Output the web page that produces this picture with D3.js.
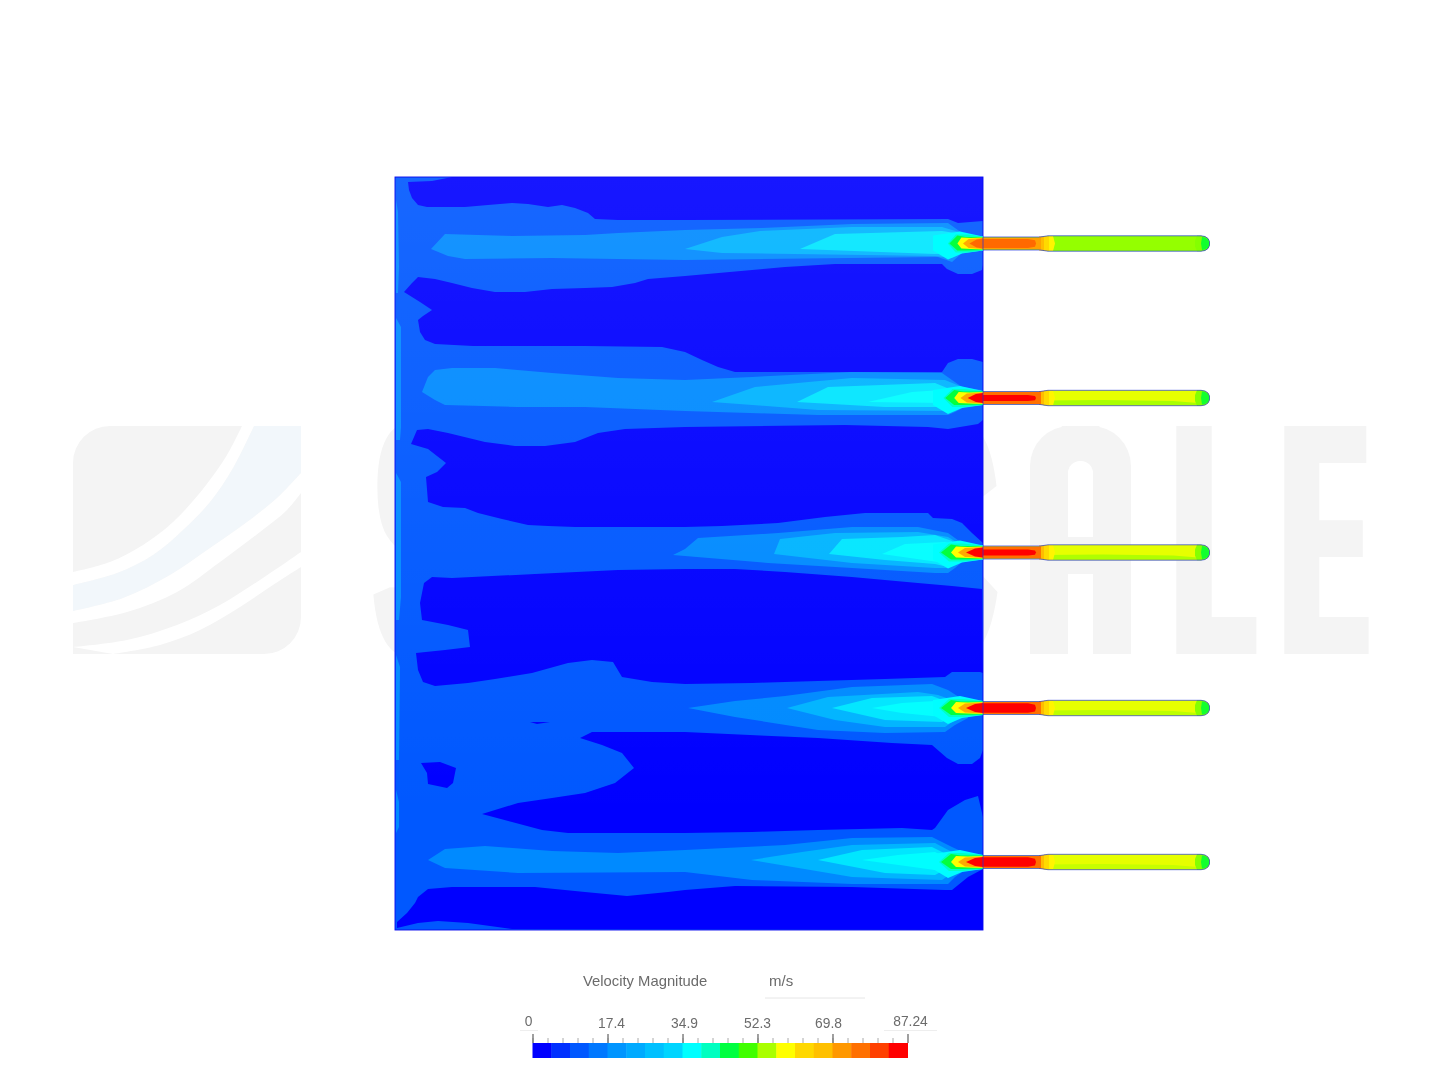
<!DOCTYPE html>
<html lang="en">
<head>
    <meta charset="UTF-8">
    <title>Velocity Magnitude</title>
    <script src="https://d3js.org/d3.v7.min.js"></script>
    <style>
        body {
            margin: 0;
            background: #fff;
            font-family: "Liberation Sans", Arial, sans-serif;
        }
        svg {
            display: block;
        }
    </style>
</head>
<body>
    <div id="chart"></div>

    <script>
        // Legend: 20 bins between 0 and 87.24 m/s
        const maxVelocity = 87.24;
        const legendColors = ["#0000ff", "#0030ff", "#0058ff", "#0078ff", "#0095ff", "#00aaff", "#00c0ff", "#00d5ff", "#00ffff", "#00ffc0",
            "#00ff40", "#40ff00", "#aaff00", "#ffff00", "#ffd800", "#ffc000", "#ff9800", "#ff7000", "#ff4000", "#ff0000"];
        const majorTicks = [0, 17.45, 34.9, 52.34, 69.79, 87.24];
        const tickLabels = ["0", "17.4", "34.9", "52.3", "69.8", "87.24"];
        const minorTicks = d3.range(0, 25).map(i => i * maxVelocity / 25);

        // Velocity of each contour level, m/s
        const vLake = 2.2, vBase = 10.9, vBand = 18, vMid = 26, vHigh = 34.5, vJet = 37;

        // Low velocity regions, outline points [x, y] in mm from the top left of the plate
        const lakeA = [[13, 5], [37, 4], [57, 0], [588, 0], [588, 44], [563, 46], [553, 42], [290, 43], [223, 43], [200, 42], [193, 36], [180, 31], [167, 28], [153, 30], [133, 27], [117, 26], [93, 28], [70, 30], [50, 30], [32, 30], [23, 28], [17, 21], [14, 13]];
        const lakeB = [[9, 115], [17, 106], [23, 100], [40, 102], [57, 106], [77, 111], [100, 115], [130, 115], [157, 112], [190, 111], [217, 110], [240, 106], [253, 102], [290, 99], [390, 90], [440, 87], [547, 87], [552, 92], [563, 97], [577, 97], [587, 93], [588, 88], [588, 185], [577, 182], [563, 182], [553, 186], [547, 195], [340, 195], [323, 190], [307, 183], [290, 175], [267, 170], [190, 169], [78, 169], [40, 167], [30, 163], [25, 155], [23, 143], [28, 139], [37, 133], [25, 125]];
        const lakeC = [[16, 267], [22, 253], [33, 252], [53, 256], [90, 265], [120, 269], [150, 269], [180, 265], [203, 256], [230, 252], [290, 250], [450, 248], [533, 250], [553, 252], [583, 247], [588, 243], [588, 366], [577, 356], [567, 346], [557, 342], [538, 341], [533, 336], [470, 336], [430, 340], [383, 346], [327, 349], [290, 350], [223, 350], [180, 350], [153, 349], [133, 348], [107, 342], [83, 336], [70, 331], [48, 330], [33, 325], [31, 300], [42, 295], [51, 286], [33, 272]];
        const lakeD = [[29, 406], [37, 400], [57, 401], [140, 397], [223, 393], [290, 392], [340, 392], [390, 395], [457, 400], [523, 406], [557, 409], [587, 412], [588, 496], [585, 495], [557, 495], [550, 500], [490, 502], [423, 504], [357, 506], [290, 507], [257, 505], [227, 500], [218, 485], [197, 483], [173, 486], [137, 496], [100, 502], [73, 506], [40, 509], [28, 505], [23, 493], [21, 476], [50, 473], [75, 470], [73, 453], [53, 448], [27, 443], [25, 426]];
        const lakeE = [[185, 561], [197, 555], [223, 555], [290, 555], [423, 561], [497, 566], [537, 568], [552, 581], [563, 587], [577, 587], [585, 581], [588, 573], [588, 640], [583, 619], [570, 623], [553, 633], [540, 651], [537, 653], [507, 651], [423, 653], [357, 655], [290, 656], [173, 656], [147, 653], [117, 645], [87, 637], [123, 626], [157, 621], [190, 616], [220, 606], [239, 591], [227, 576], [207, 568]];
        const lakeF = [[12, 736], [20, 726], [23, 720], [33, 712], [57, 710], [140, 710], [190, 715], [232, 719], [273, 715], [290, 713], [340, 709], [457, 710], [550, 713], [557, 713], [573, 700], [588, 692], [588, 753], [117, 752], [73, 746], [43, 744], [23, 746], [2, 751], [2, 745]];
        const lakeIsland = [[26, 586], [45, 585], [61, 591], [58, 606], [52, 611], [33, 607], [32, 596]];
        const lakeSlit = [[135, 545], [155, 545], [142, 547]];
        const lakes = [lakeA, lakeB, lakeC, lakeD, lakeE, lakeF, lakeIsland, lakeSlit];

        // Faster strips along the left wall
        const wallStrips = [
            [[1, 23], [3, 35], [4, 90], [3, 116], [1, 116]],
            [[1, 141], [6, 150], [6, 250], [5, 263], [1, 263]],
            [[1, 296], [6, 305], [6, 420], [4, 443], [1, 443]],
            [[1, 478], [5, 490], [4, 583], [1, 583]],
            [[1, 613], [4, 625], [4, 650], [1, 656]]
        ];

        // Jet contours, outer level to inner
        const jet1Band = [[36, 72], [50, 57], [117, 59], [190, 58], [223, 56], [290, 53], [367, 51], [457, 47], [553, 46], [567, 56], [588, 60], [588, 73], [567, 76], [557, 85], [543, 80], [290, 83], [223, 82], [157, 81], [70, 82], [53, 79]];
        const jet1Mid = [[290, 72], [327, 60], [365, 54], [457, 50], [547, 50], [567, 56], [567, 76], [557, 81], [540, 79], [327, 76]];
        const jet1High = [[405, 72], [440, 57], [547, 54], [560, 56], [560, 76], [540, 77]];
        const jet2Band = [[27, 215], [33, 200], [40, 193], [57, 191], [100, 191], [157, 196], [223, 201], [290, 203], [357, 200], [457, 195], [547, 196], [567, 210], [586, 213], [586, 226], [573, 228], [560, 235], [553, 238], [423, 238], [290, 234], [190, 230], [123, 230], [50, 228], [40, 223]];
        const jet2Mid = [[317, 225], [360, 210], [457, 201], [550, 203], [567, 210], [567, 228], [553, 234], [423, 233]];
        const jet2High = [[402, 225], [433, 210], [540, 206], [557, 213], [557, 229], [550, 230], [490, 230]];
        const jet2Core = [[473, 225], [517, 215], [547, 213], [555, 215], [555, 226], [550, 226]];
        const jet3Band = [[278, 378], [290, 372], [303, 361], [383, 356], [457, 350], [523, 350], [553, 356], [567, 366], [567, 385], [560, 391], [553, 396], [540, 396], [457, 391], [373, 386], [290, 379]];
        const jet3Mid = [[379, 377], [385, 362], [440, 356], [523, 355], [553, 360], [563, 366], [563, 383], [553, 391], [540, 391], [457, 386]];
        const jet3High = [[434, 377], [447, 362], [507, 360], [540, 358], [557, 364], [562, 381], [553, 390], [540, 387], [490, 383]];
        const jet3Core = [[487, 377], [510, 367], [550, 365], [560, 368], [560, 382], [550, 386]];
        const jet4Band = [[293, 531], [340, 524], [390, 519], [457, 510], [537, 507], [553, 513], [567, 522], [573, 541], [560, 548], [550, 555], [490, 556], [423, 553], [340, 540]];
        const jet4Mid = [[392, 531], [433, 520], [523, 515], [543, 518], [563, 525], [560, 543], [550, 550], [490, 550], [440, 543]];
        const jet4High = [[437, 531], [477, 521], [537, 519], [553, 525], [557, 540], [547, 545], [490, 543]];
        const jet4Core = [[477, 531], [507, 526], [540, 524], [550, 527], [547, 540], [507, 536]];
        const jet5Band = [[33, 683], [50, 672], [90, 669], [157, 674], [223, 676], [290, 673], [390, 668], [457, 661], [537, 660], [557, 670], [570, 676], [573, 691], [560, 700], [553, 707], [457, 707], [357, 703], [290, 695], [123, 696], [50, 691]];
        const jet5Mid = [[356, 683], [407, 675], [457, 668], [540, 666], [557, 675], [557, 696], [547, 703], [457, 700]];
        const jet5High = [[423, 683], [467, 673], [537, 670], [553, 678], [553, 691], [540, 698], [490, 696]];
        const jet5Core = [[467, 683], [503, 678], [540, 675], [550, 680], [547, 691], [540, 693]];
        const jetContours = [
            [vBand, jet1Band], [vMid, jet1Mid], [vHigh, jet1High],
            [vBand, jet2Band], [vMid, jet2Mid], [vHigh, jet2High], [vJet, jet2Core],
            [vBand, jet3Band], [vMid, jet3Mid], [vHigh, jet3High], [vJet, jet3Core],
            [vBand, jet4Band], [vMid, jet4Mid], [vHigh, jet4High], [vJet, jet4Core],
            [vBand, jet5Band], [vMid, jet5Mid], [vHigh, jet5High], [vJet, jet5Core]
        ];

        // Nozzle centre lines and velocities for each of the five pipes
        const nozzleY = [66.5, 221, 375.5, 531, 685];
        const coreV = [77, 85.3, 85.3, 85.3, 85.3];
        const rimV = [71, 76.3, 76.3, 76.3, 76.3];
        const bodyV = [53.6, 57.6, 57.6, 57.6, 57.6];
        const lowerBandV = [53.6, 54.5, 54.8, 55.5, 56];
        const plumeReach = [0.8, 0.9, 1, 1, 1];
        const coreHalf = [1.3, 0.85, 0.85, 1.35, 1.35];

        // Shared shapes around a nozzle, x from the plate edge, y from the centre line
        const plumeHalo = [[-50, -8], [-23, -12], [0, -7], [0, 7], [-21, 10], [-35, 16], [-50, 7]];
        const plumeTeal = [[-44, 0], [-34, -9], [-20, -9], [0, -7], [0, 7], [-20, 9], [-34, 9]];
        const plumeGreen = [[-42, 0], [-32, -8], [-22, -6.5], [0, -6.5], [0, 6.5], [-22, 7], [-32, 7]];
        const plumeYellow = [[-32, 0], [-27, -6], [-15, -5.5], [0, -6], [0, 6], [-15, 5.5], [-27, 5]];
        const plumeOrange = [[-25, 0], [-18, -4.5], [0, -5.5], [0, 5.5], [-18, 4.5]];
        const plumeCore = [[-17, 0], [-8, -4], [0, -5], [0, 5], [-8, 4]];

        // Pipe outline, x from the plate edge
        const pipeOutline = [[0, -6.5], [57, -6.5], [65, -7.7], [218, -7.7], [222, -7], [225, -5], [226.5, -2], [226.5, 2], [225, 5], [222, 7], [218, 7.7], [65, 7.7], [57, 6.5], [0, 6.5]];
        const pipeRim = [[0, -6], [58, -6], [58, 6], [0, 6]];
        const pipeCore = [[0, -3.5], [45, -3.5], [52, -2.5], [53, 0], [52, 2.5], [45, 3.5], [0, 3.5]];
        const pipeLower = [[60, 2.5], [120, 2], [190, 3], [215, 5], [215, 7.2], [60, 7.2]];
        const pipeEndOuter = [[214, -7.7], [218, -7.7], [222, -7], [225, -5], [226.5, -2], [226.5, 2], [225, 5], [222, 7], [218, 7.7], [214, 7.7], [212, 3], [212, -3]];
        const pipeEndInner = [[219, -6.5], [222, -6], [225, -4], [226, -2], [226, 2], [225, 4], [222, 6], [219, 6.5], [218, 0]];
        const pipeStepA = [[56, -7], [61, -7], [61, 7], [56, 7]];
        const pipeStepB = [[61, -7.4], [66, -7.4], [66, 7.4], [61, 7.4]];
        const pipeStepC = [[66, -7.5], [70, -7.5], [72, 0], [70, 7.5], [66, 7.5]];

        // Watermark behind the plate
        const markLetters = ["S", "I", "M", "S", "C", "A", "L", "E"];
        const markLeft = [375, 490, 555, 715, 905, 1030, 1177, 1285];
        const markRight = [465, 530, 690, 805, 995, 1131, 1255, 1367];
        // Left and right ink edges of each glyph, in em
        const inkLeft = [0.042, 0.072, 0.072, 0.042, 0.05, 0, 0.073, 0.073];
        const inkRight = [0.622, 0.216, 0.76, 0.622, 0.673, 0.72, 0.569, 0.614];
        const logoEdges = [
            [[0, 146], [37, 136], [70, 119], [100, 96], [130, 63], [154, 29], [169, 0]],
            [[0, 159], [44, 147], [80, 129], [110, 104], [137, 76], [160, 42], [181, 0]],
            [[0, 185], [50, 172], [97, 149], [137, 122], [174, 96], [204, 72], [228, 47]],
            [[0, 197], [54, 186], [104, 166], [147, 136], [187, 106], [214, 84], [228, 67]],
            [[0, 221], [54, 214], [104, 199], [147, 179], [187, 154], [228, 126]],
            [[40, 228], [87, 219], [127, 204], [167, 181], [200, 159], [228, 141]]
        ];

        const width = 1440, height = 1080;
        const markGray = "#f4f4f4", markBlue = "#f2f7fb", textGray = "#6b6b6b";

        const svg = d3.select("#chart").append("svg")
            .attr("width", width)
            .attr("height", height);

        const defs = svg.append("defs");

        // Plate scales, 1 mm is 1 px
        const x = d3.scaleLinear().domain([0, 588]).range([395, 983]);
        const y = d3.scaleLinear().domain([0, 753]).range([177, 930]);

        // Continuous colour through the middle of each legend bin
        const binSize = maxVelocity / legendColors.length;
        const velocityColor = d3.scaleLinear()
            .domain(legendColors.map((c, i) => (i + 0.5) * binSize))
            .range(legendColors)
            .clamp(true);

        const outline = d3.line().x(d => x(d[0])).y(d => y(d[1]));
        const closed = pts => outline(pts) + "Z";
        const atNozzle = (pts, cy) => pts.map(p => [588 + p[0], cy + p[1]]);

        function drawWatermark() {
            const logoX = d3.scaleLinear().domain([0, 228]).range([73, 301]);
            const logoY = d3.scaleLinear().domain([0, 228]).range([426, 654]);
            const edge = d3.line().x(d => logoX(d[0])).y(d => logoY(d[1])).curve(d3.curveCatmullRom);
            const between = (a, b, corner) => {
                const back = edge(b.slice().reverse()).replace("M", corner ? `L${logoX(corner[0])},${logoY(corner[1])}L` : "L");
                return edge(a) + back + "Z";
            };

            defs.append("clipPath").attr("id", "logoClip")
                .append("path").attr("d", () => {
                    const r = 37, p = d3.path();
                    p.moveTo(logoX(r), logoY(0));
                    p.lineTo(logoX(228), logoY(0));
                    p.lineTo(logoX(228), logoY(228 - r));
                    p.arcTo(logoX(228), logoY(228), logoX(228 - r), logoY(228), r);
                    p.lineTo(logoX(0), logoY(228));
                    p.lineTo(logoX(0), logoY(r));
                    p.arcTo(logoX(0), logoY(0), logoX(r), logoY(0), r);
                    p.closePath();
                    return p.toString();
                });

            const logo = svg.append("g").attr("clip-path", "url(#logoClip)");
            logo.append("rect").attr("x", 73).attr("y", 426).attr("width", 228).attr("height", 228).attr("fill", markGray);
            logo.append("path").attr("d", between(logoEdges[1], logoEdges[2], [228, 0])).attr("fill", markBlue);
            logo.append("path").attr("d", between(logoEdges[0], logoEdges[1])).attr("fill", "#fff");
            logo.append("path").attr("d", between(logoEdges[2], logoEdges[3])).attr("fill", "#fff");
            logo.append("path").attr("d", between(logoEdges[4], logoEdges[5])).attr("fill", "#fff");

            // The wordmark has thick stems and thin bars, so only dilate sideways
            const grow = 9;
            defs.append("filter").attr("id", "wideStems")
                .attr("filterUnits", "userSpaceOnUse")
                .attr("color-interpolation-filters", "sRGB")
                .attr("x", 0).attr("y", 400).attr("width", width).attr("height", 300)
                .append("feMorphology").attr("operator", "dilate").attr("radius", `${grow} 0`);

            const word = svg.append("g").attr("filter", "url(#wideStems)");
            markLetters.forEach((letter, i) => {
                const sx = (markRight[i] - markLeft[i] - grow * 2) / ((inkRight[i] - inkLeft[i]) * 100);
                const sy = 228 / 68.8;
                word.append("text")
                    .attr("font-family", "Liberation Sans")
                    .attr("font-weight", "bold")
                    .attr("font-size", 100)
                    .attr("fill", markGray)
                    .attr("transform", `translate(${markLeft[i] + grow - inkLeft[i] * 100 * sx},654) scale(${sx},${sy})`)
                    .text(letter);
            });

            // Squared shoulders of the A in the wordmark
            const a = d3.path();
            a.moveTo(1030, 654);
            a.lineTo(1030, 466);
            a.arcTo(1030, 426, 1070, 426, 40);
            a.lineTo(1091, 426);
            a.arcTo(1131, 426, 1131, 466, 40);
            a.lineTo(1131, 654);
            a.closePath();
            svg.append("path").attr("d", a.toString()).attr("fill", markGray);
            const gap = d3.path();
            gap.moveTo(1068, 537);
            gap.lineTo(1068, 473);
            gap.arcTo(1068, 461, 1080, 461, 12);
            gap.arcTo(1093, 461, 1093, 473, 12);
            gap.lineTo(1093, 537);
            gap.closePath();
            gap.rect(1068, 574, 25, 81);
            svg.append("path").attr("d", gap.toString()).attr("fill", "#fff");
        }

        function drawPlate() {
            const plate = svg.append("g").attr("filter", "url(#soft)");
            plate.append("rect")
                .attr("x", x(0)).attr("y", y(0))
                .attr("width", x(588) - x(0)).attr("height", y(753) - y(0))
                .attr("fill", velocityColor(vBase));

            plate.selectAll("path.lake").data(lakes).enter().append("path")
                .attr("class", "lake")
                .attr("d", closed)
                .attr("fill", velocityColor(vLake));

            plate.selectAll("path.wall").data(wallStrips).enter().append("path")
                .attr("class", "wall")
                .attr("d", closed)
                .attr("fill", velocityColor(vBand));

            plate.selectAll("path.jet").data(jetContours).enter().append("path")
                .attr("class", "jet")
                .attr("d", d => closed(d[1]))
                .attr("fill", d => velocityColor(d[0]));

            // The top of the render is slightly washed out
            const fade = defs.append("linearGradient").attr("id", "fade").attr("x1", 0).attr("x2", 0).attr("y1", 0).attr("y2", 1);
            fade.append("stop").attr("offset", 0).attr("stop-color", "#fff").attr("stop-opacity", 0.09);
            fade.append("stop").attr("offset", 0.85).attr("stop-color", "#fff").attr("stop-opacity", 0);
            plate.append("rect")
                .attr("x", x(0)).attr("y", y(0))
                .attr("width", x(588) - x(0)).attr("height", y(753) - y(0))
                .attr("fill", "url(#fade)");

            plate.append("rect")
                .attr("x", x(0)).attr("y", y(0))
                .attr("width", x(588) - x(0)).attr("height", y(753) - y(0))
                .attr("fill", "none")
                .attr("stroke", "#0a0aee")
                .attr("stroke-width", 0.9);
        }

        function drawPipes() {
            nozzleY.forEach((cy, i) => {
                const g = svg.append("g").attr("filter", "url(#soft)");
                const part = (pts, v) => g.append("path").attr("d", closed(atNozzle(pts, cy))).attr("fill", velocityColor(v));
                const reach = pts => pts.map(p => [p[0] * plumeReach[i], p[1]]);

                // Plume inside the plate
                part(plumeHalo, vJet);
                part(reach(plumeTeal), 41);
                part(reach(plumeGreen), 46);
                part(reach(plumeYellow), 59);
                part(reach(plumeOrange), 70);
                part(reach(plumeCore), coreV[i]);

                // Pipe
                part(pipeOutline, bodyV[i]);
                part(pipeLower, lowerBandV[i]);
                part(pipeEndOuter, 53);
                part(pipeEndInner, 47);
                part(pipeStepC, 60);
                part(pipeStepB, 63);
                part(pipeStepA, 68);
                part(pipeRim, rimV[i]);
                part(pipeCore.map(p => [p[0], p[1] * coreHalf[i]]), coreV[i]);

                g.append("path")
                    .attr("d", closed(atNozzle(pipeOutline, cy)))
                    .attr("fill", "none")
                    .attr("stroke", "#1a30e0")
                    .attr("stroke-width", 0.8)
                    .attr("stroke-opacity", 0.85);
            });
        }

        function drawLegend() {
            const legendX = d3.scaleLinear().domain([0, maxVelocity]).range([532.5, 907.5]);
            const g = svg.append("g").attr("fill", textGray).attr("filter", "url(#softText)");

            g.append("text").attr("x", 583).attr("y", 986).attr("font-size", 14.8).text("Velocity Magnitude");
            g.append("text").attr("x", 769).attr("y", 986).attr("font-size", 15).text("m/s");
            g.append("line").attr("x1", 765).attr("x2", 865).attr("y1", 998).attr("y2", 998).attr("stroke", "#e6e6e6");

            g.selectAll("rect").data(legendColors).enter().append("rect")
                .attr("x", (c, i) => legendX(i * binSize))
                .attr("y", 1043)
                .attr("width", legendX(binSize) - legendX(0) + 0.5)
                .attr("height", 15)
                .attr("fill", c => c);

            const minor = g.append("g").attr("transform", "translate(0,1043)")
                .call(d3.axisTop(legendX).tickValues(minorTicks).tickSize(5).tickFormat(""));
            const major = g.append("g").attr("transform", "translate(0,1043)")
                .call(d3.axisTop(legendX).tickValues(majorTicks).tickSize(9).tickFormat(""));
            minor.select(".domain").remove();
            major.select(".domain").remove();
            minor.selectAll("line").attr("stroke", "#aaa");
            major.selectAll("line").attr("stroke", "#777").attr("stroke-width", 1.4);

            // Labels sit a little off their ticks in the original
            const labelNudge = [-4, 4, 2, 0, -4, 3];
            const last = tickLabels.length - 1;
            g.selectAll("text.tick-label").data(tickLabels).enter().append("text")
                .attr("class", "tick-label")
                .attr("x", (t, i) => legendX(majorTicks[i]) + labelNudge[i])
                .attr("y", (t, i) => (i === 0 || i === last) ? 1026 : 1028)
                .attr("font-size", 13.8)
                .attr("text-anchor", "middle")
                .text(t => t);

            g.append("line").attr("x1", 520).attr("x2", 538).attr("y1", 1030.5).attr("y2", 1030.5).attr("stroke", "#eee");
            g.append("line").attr("x1", 884).attr("x2", 937).attr("y1", 1030.5).attr("y2", 1030.5).attr("stroke", "#eee");
        }

        // The original is an upscaled screenshot, everything is a bit soft
        defs.append("filter").attr("id", "soft")
            .attr("filterUnits", "userSpaceOnUse")
            .attr("color-interpolation-filters", "sRGB")
            .attr("x", 0).attr("y", 0).attr("width", width).attr("height", height)
            .append("feGaussianBlur").attr("stdDeviation", 0.5);
        defs.append("filter").attr("id", "softText")
            .attr("filterUnits", "userSpaceOnUse")
            .attr("color-interpolation-filters", "sRGB")
            .attr("x", 0).attr("y", 0).attr("width", width).attr("height", height)
            .append("feGaussianBlur").attr("stdDeviation", 0.35);

        drawWatermark();
        drawPlate();
        drawPipes();
        drawLegend();
    </script>
</body>
</html>
